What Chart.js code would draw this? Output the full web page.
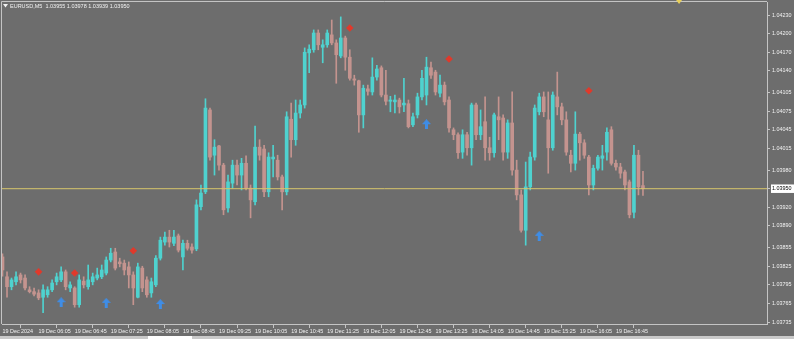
<!DOCTYPE html>
<html lang="en">
<head>
<meta charset="UTF-8">
<title>EURUSD,M5</title>
<script src="https://cdn.jsdelivr.net/npm/chart.js"></script>
<style>
  html, body { margin: 0; padding: 0; background: #6d6d6d; }
  canvas { display: block; }
</style>
</head>
<body>
<canvas id="chart" width="794" height="339"></canvas>
<script>
// EURUSD M5 candles, 19 Dec 2024
const symbol = 'EURUSD,M5';
const opens = [
  1.03840,1.03808,1.03792,1.03800,1.03811,1.03806,1.03787,1.03784,1.03782,1.03775,
  1.03779,1.03787,1.03800,1.03803,1.03816,1.03790,1.03790,1.03763,1.03801,1.03792,
  1.03800,1.03806,1.03808,1.03814,1.03835,1.03848,1.03832,1.03830,1.03824,1.03811,
  1.03775,1.03822,1.03803,1.03782,1.03795,1.03838,1.03864,1.03872,1.03862,1.03874,
  1.03840,1.03862,1.03856,1.03853,1.03921,1.03945,1.04077,1.04004,1.04019,1.03988,
  1.03919,1.03959,1.03988,1.03972,1.03991,1.03951,1.03929,1.04017,1.04014,1.03945,
  1.03998,1.03996,1.03969,1.03945,1.04062,1.04029,1.04072,1.04085,1.04169,1.04174,
  1.04201,1.04178,1.04182,1.04198,1.04185,1.04164,1.04193,1.04162,1.04127,1.04124,
  1.04069,1.04111,1.04106,1.04130,1.04145,1.04101,1.04091,1.04090,1.04093,1.04085,
  1.04087,1.04053,1.04069,1.04098,1.04101,1.04145,1.04138,1.04104,1.04117,1.04093,
  1.04045,1.04037,1.04009,1.04037,1.04016,1.04085,1.04037,1.04058,1.04016,1.04008,
  1.04066,1.04064,1.04009,1.04056,1.03980,1.03940,1.03883,1.03953,1.04001,1.04074,
  1.04098,1.04061,1.04016,1.04098,1.04082,1.04061,1.04004,1.03991,1.04038,1.04024,
  1.04001,1.03956,1.03983,1.03999,1.04009,1.04045,1.03991,1.03985,1.03977,1.03961,
  1.03912,1.04004,1.03955
];
const highs = [
  1.03845,1.03816,1.03806,1.03816,1.03814,1.03811,1.03792,1.03790,1.03787,1.03795,
  1.03792,1.03803,1.03814,1.03824,1.03819,1.03800,1.03792,1.03811,1.03808,1.03827,
  1.03814,1.03822,1.03827,1.03840,1.03854,1.03854,1.03838,1.03835,1.03832,1.03816,
  1.03830,1.03825,1.03808,1.03806,1.03842,1.03872,1.03880,1.03883,1.03883,1.03877,
  1.03867,1.03867,1.03861,1.03932,1.03956,1.04095,1.04080,1.04029,1.04020,1.03991,
  1.03972,1.03996,1.03996,1.03999,1.04003,1.03956,1.04051,1.04029,1.04020,1.04008,
  1.04020,1.04004,1.03972,1.04074,1.04088,1.04093,1.04093,1.04177,1.04182,1.04206,
  1.04206,1.04190,1.04206,1.04222,1.04190,1.04227,1.04196,1.04174,1.04133,1.04125,
  1.04117,1.04117,1.04161,1.04149,1.04148,1.04141,1.04099,1.04101,1.04096,1.04128,
  1.04093,1.04072,1.04104,1.04141,1.04162,1.04154,1.04141,1.04133,1.04122,1.04098,
  1.04048,1.04040,1.04045,1.04041,1.04088,1.04088,1.04077,1.04098,1.04033,1.04072,
  1.04098,1.04069,1.04061,1.04106,1.03996,1.03948,1.03993,1.04009,1.04085,1.04104,
  1.04106,1.04106,1.04106,1.04138,1.04088,1.04074,1.04012,1.04074,1.04041,1.04029,
  1.04004,1.03988,1.04004,1.04020,1.04048,1.04050,1.03996,1.03991,1.03980,1.03964,
  1.04020,1.04012,1.03978
];
const lows = [
  1.03809,1.03775,1.03787,1.03795,1.03798,1.03787,1.03782,1.03777,1.03771,1.03750,
  1.03775,1.03784,1.03795,1.03800,1.03787,1.03784,1.03759,1.03759,1.03790,1.03788,
  1.03795,1.03803,1.03805,1.03811,1.03832,1.03819,1.03824,1.03811,1.03790,1.03763,
  1.03774,1.03784,1.03775,1.03775,1.03792,1.03835,1.03859,1.03856,1.03858,1.03848,
  1.03819,1.03851,1.03846,1.03850,1.03916,1.03942,1.03996,1.03972,1.03980,1.03908,
  1.03912,1.03951,1.03956,1.03948,1.03948,1.03903,1.03924,1.03996,1.03937,1.03937,
  1.03969,1.03964,1.03916,1.03940,1.04001,1.04020,1.04064,1.04080,1.04137,1.04170,
  1.04174,1.04153,1.04178,1.04182,1.04120,1.04161,1.04141,1.04125,1.04117,1.04041,
  1.04048,1.04101,1.04101,1.04125,1.04098,1.04085,1.04074,1.04072,1.04072,1.04074,
  1.04048,1.04050,1.04064,1.04093,1.04085,1.04128,1.04101,1.04098,1.04085,1.04041,
  1.04029,1.03999,1.03999,1.04004,1.03988,1.04029,1.04029,1.03996,1.03996,1.04001,
  1.04029,1.03996,1.03999,1.03972,1.03932,1.03880,1.03859,1.03948,1.03996,1.04069,
  1.04066,1.03975,1.04012,1.04069,1.04053,1.04004,1.03977,1.03980,1.03996,1.03999,
  1.03940,1.03948,1.03980,1.03980,1.03996,1.03988,1.03980,1.03967,1.03948,1.03903,
  1.03903,1.03940,1.03939
];
const closes = [
  1.03819,1.03792,1.03803,1.03808,1.03803,1.03790,1.03784,1.03780,1.03774,1.03787,
  1.03787,1.03798,1.03808,1.03816,1.03792,1.03795,1.03763,1.03803,1.03795,1.03803,
  1.03808,1.03811,1.03819,1.03835,1.03846,1.03822,1.03829,1.03819,1.03811,1.03790,
  1.03824,1.03790,1.03779,1.03800,1.03838,1.03867,1.03872,1.03864,1.03872,1.03851,
  1.03862,1.03854,1.03851,1.03924,1.03943,1.04080,1.04001,1.04017,1.03988,1.03916,
  1.03961,1.03988,1.03972,1.03991,1.03951,1.03932,1.04017,1.04004,1.03945,1.04001,
  1.04001,1.03969,1.03945,1.04066,1.04029,1.04072,1.04085,1.04170,1.04175,1.04201,
  1.04182,1.04182,1.04201,1.04185,1.04166,1.04193,1.04162,1.04128,1.04125,1.04069,
  1.04112,1.04107,1.04130,1.04143,1.04101,1.04091,1.04093,1.04093,1.04082,1.04088,
  1.04050,1.04066,1.04098,1.04128,1.04146,1.04133,1.04106,1.04117,1.04090,1.04048,
  1.04037,1.04008,1.04037,1.04016,1.04085,1.04037,1.04050,1.04016,1.04008,1.04069,
  1.04061,1.04009,1.04056,1.03980,1.03940,1.03883,1.03953,1.04001,1.04080,1.04098,
  1.04074,1.04016,1.04101,1.04082,1.04061,1.04009,1.03991,1.04038,1.04024,1.04004,
  1.03956,1.03983,1.04001,1.04003,1.04041,1.03991,1.03985,1.03975,1.03956,1.03908,
  1.04004,1.03953,1.03950
];

// time axis: a label every 8 bars
const xTickIdx = [0, 8, 16, 24, 32, 40, 48, 56, 64, 72, 80, 88, 96, 104, 112, 120, 128, 136];
const xTickLabels = ['19 Dec 2024', '19 Dec 06:05', '19 Dec 06:45', '19 Dec 07:25', '19 Dec 08:05',
  '19 Dec 08:45', '19 Dec 09:25', '19 Dec 10:05', '19 Dec 10:45', '19 Dec 11:25', '19 Dec 12:05',
  '19 Dec 12:45', '19 Dec 13:25', '19 Dec 14:05', '19 Dec 14:45', '19 Dec 15:25', '19 Dec 16:05', '19 Dec 16:45'];
const yTicks = [1.04230, 1.04200, 1.04170, 1.04140, 1.04105, 1.04075, 1.04045, 1.04015, 1.03980,
  1.03950, 1.03920, 1.03890, 1.03855, 1.03825, 1.03795, 1.03765, 1.03735];
const lastPrice = 1.03950;

// indicator arrows
const redIdx = [8, 16, 29, 77, 99, 130];
const redPrice = [1.03816, 1.03814, 1.03850, 1.04209, 1.04159, 1.04108];
const blueIdx = [13, 23, 35, 94, 119];
const bluePrice = [1.03767, 1.03766, 1.03764, 1.04054, 1.03874];

const BG = '#6d6d6d';
const UP = '#4fd2cf';
const DOWN = '#c4948f';
const TXT = '#f2f2f2';
const FRAME = '#c4c4c4';
const FONT = 'Liberation Sans';
const xMin = -0.11, xMax = 169.5;
const shiftIdx = 150;

const candleColor = opens.map((o, i) => closes[i] >= o ? UP : DOWN);

// small blue up arrow used as point style
function makeArrow() {
  const c = document.createElement('canvas');
  c.width = 9; c.height = 10;
  const g = c.getContext('2d');
  g.fillStyle = '#3f8de6';
  g.beginPath();
  g.moveTo(4.5, 0); g.lineTo(9, 5); g.lineTo(0, 5); g.closePath();
  g.fill();
  g.fillRect(3, 5, 3, 5);
  return c;
}

const chrome = {
  id: 'chrome',
  beforeDraw(chart) {
    const ctx = chart.ctx;
    ctx.save();
    ctx.fillStyle = BG;
    ctx.fillRect(0, 0, chart.width, chart.height);
    ctx.restore();
  },
  afterDraw(chart) {
    const ctx = chart.ctx, a = chart.chartArea;
    const xs = chart.scales.x;
    ctx.save();
    // top and left frame
    ctx.strokeStyle = FRAME;
    ctx.lineWidth = 1;
    ctx.beginPath();
    ctx.moveTo(a.left - 0.5, a.top - 0.5); ctx.lineTo(a.right, a.top - 0.5);
    ctx.moveTo(a.left - 0.5, a.top - 0.5); ctx.lineTo(a.left - 0.5, a.bottom);
    ctx.stroke();
    // header
    ctx.fillStyle = TXT;
    ctx.beginPath();
    ctx.moveTo(3, 4); ctx.lineTo(8, 4); ctx.lineTo(5.5, 7.5); ctx.closePath();
    ctx.fill();
    const n = opens.length - 1;
    ctx.font = '5.5px "' + FONT + '"';
    ctx.textBaseline = 'middle';
    ctx.fillText(symbol + '  ' + [opens[n], highs[n], lows[n], closes[n]].map(v => v.toFixed(5)).join(' '), 10, 6.5);
    // chart shift marker
    const sx = xs.getPixelForValue(shiftIdx);
    ctx.fillStyle = '#e8cf5a';
    ctx.beginPath();
    ctx.moveTo(sx - 3, 0); ctx.lineTo(sx + 3, 0); ctx.lineTo(sx, 4); ctx.closePath();
    ctx.fill();
    // window tab strip
    ctx.fillStyle = '#c9c9c9';
    ctx.fillRect(0, 336, chart.width, 3);
    ctx.fillStyle = '#ffffff';
    ctx.fillRect(148, 336, 44, 3);
    ctx.restore();
  }
};

new Chart(document.getElementById('chart'), {
  type: 'bar',
  data: {
    datasets: [
      {
        type: 'line',
        data: [{ x: xMin, y: lastPrice }, { x: xMax, y: lastPrice }],
        borderColor: '#d8c66c',
        borderWidth: 1,
        pointRadius: 0,
        order: -1
      },
      {
        type: 'line',
        showLine: false,
        data: redIdx.map((v, i) => ({ x: v, y: redPrice[i] })),
        pointStyle: 'rectRot',
        pointRadius: 3.8,
        backgroundColor: '#e0392b',
        borderWidth: 0,
        order: 0
      },
      {
        type: 'line',
        showLine: false,
        data: blueIdx.map((v, i) => ({ x: v, y: bluePrice[i] })),
        pointStyle: makeArrow(),
        pointRadius: 5,
        order: 0
      },
      {
        data: opens.map((o, i) => ({ x: i, y: [o, closes[i]] })),
        backgroundColor: candleColor,
        barThickness: 3,
        minBarLength: 1,
        grouped: false,
        order: 1
      },
      {
        data: opens.map((o, i) => ({ x: i, y: [lows[i], highs[i]] })),
        backgroundColor: candleColor,
        barThickness: 1,
        grouped: false,
        order: 2
      }
    ]
  },
  options: {
    responsive: false,
    animation: false,
    layout: { autoPadding: false, padding: { left: 2, top: 2, right: 0, bottom: 0 } },
    plugins: { legend: { display: false }, tooltip: { enabled: false } },
    scales: {
      x: {
        type: 'linear',
        min: xMin,
        max: xMax,
        offset: false,
        grid: { drawOnChartArea: false, drawTicks: true, tickLength: 4, color: FRAME },
        border: { display: true, color: FRAME },
        ticks: {
          autoSkip: false, maxRotation: 0, minRotation: 0, align: 'start', padding: 0,
          color: TXT, font: { family: FONT, size: 5.4 },
          callback: v => { const k = xTickIdx.indexOf(v); return k < 0 ? '' : xTickLabels[k]; }
        },
        afterBuildTicks: s => { s.ticks = xTickIdx.map(v => ({ value: v })); },
        afterFit: s => { s.height = 15; s.paddingLeft = 0; s.paddingRight = 0; }
      },
      y: {
        type: 'linear',
        position: 'right',
        min: 1.037319,
        max: 1.04251,
        grid: { drawOnChartArea: false, drawTicks: true, tickLength: 3, color: FRAME },
        border: { display: true, color: FRAME },
        ticks: {
          padding: 2,
          font: { family: FONT, size: 5.4 },
          color: c => (c.tick && c.tick.value === lastPrice) ? '#000000' : TXT,
          showLabelBackdrop: c => !!(c.tick && c.tick.value === lastPrice),
          backdropColor: '#ffffff',
          backdropPadding: { left: 1, right: 3, top: 1, bottom: 1 },
          callback: v => v.toFixed(5)
        },
        afterBuildTicks: s => { s.ticks = yTicks.map(v => ({ value: v })); },
        afterFit: s => { s.width = 27; s.paddingTop = 0; s.paddingBottom = 0; }
      }
    }
  },
  plugins: [chrome]
});
</script>
</body>
</html>
